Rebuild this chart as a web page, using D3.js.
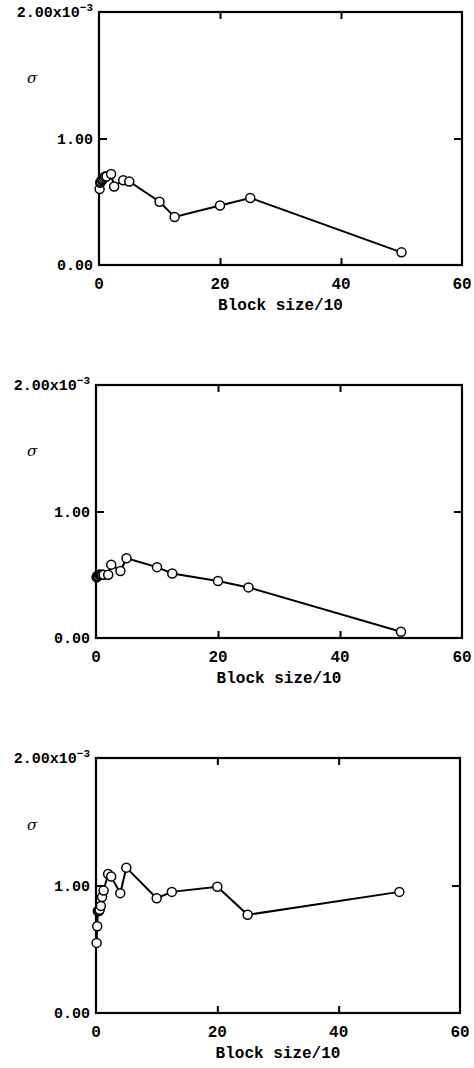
<!DOCTYPE html>
<html><head><meta charset="utf-8">
<script src="https://cdn.jsdelivr.net/npm/d3@7"></script>
<style>body{margin:0;background:#fff}</style></head>
<body><svg id="c" width="474" height="1068"></svg>
<script>
const blockSizes = [0.1,0.2,0.3,0.5,0.6,0.8,1,1.25,2,2.5,4,5,10,12.5,20,25,50];
const sigmaA = [0.60,0.65,0.66,0.67,0.68,0.69,0.70,0.70,0.72,0.62,0.67,0.66,0.50,0.38,0.47,0.53,0.10];
const sigmaB = [0.48,0.49,0.49,0.50,0.50,0.50,0.50,0.50,0.50,0.58,0.53,0.63,0.56,0.51,0.45,0.40,0.05];
const sigmaC = [0.55,0.68,0.80,0.80,0.81,0.84,0.91,0.96,1.09,1.07,0.94,1.14,0.90,0.95,0.99,0.77,0.95];
const xTicks = [0,20,40,60];
const yTicks = [0,1,2];
const yTickLabels = ["0.00","1.00","2.00x10"];

const panels = [
  {data:sigmaA, x0:99, x1:462, top:12, bottom:265},
  {data:sigmaB, x0:96, x1:462, top:385, bottom:638},
  {data:sigmaC, x0:96, x1:460, top:758, bottom:1013}
];
const svg = d3.select("#c");
const font = "Liberation Mono, DejaVu Sans Mono, monospace";
panels.forEach(p=>{
  const g = svg.append("g");
  const x = d3.scaleLinear().domain([0,60]).range([p.x0,p.x1]);
  const y = d3.scaleLinear().domain([0,2]).range([p.bottom,p.top]);
  g.append("rect").attr("x",p.x0).attr("y",p.top).attr("width",p.x1-p.x0).attr("height",p.bottom-p.top)
    .attr("fill","none").attr("stroke","#000").attr("stroke-width",2.2);
  g.append("g").attr("transform",`translate(0,${p.bottom})`).call(d3.axisBottom(x).tickValues([20,40]).tickSize(-7).tickFormat(""))
   .call(a=>{a.select(".domain").remove();a.selectAll("line").attr("stroke-width",2);});
  g.append("g").attr("transform",`translate(0,${p.top})`).call(d3.axisTop(x).tickValues([20,40]).tickSize(-7).tickFormat(""))
   .call(a=>{a.select(".domain").remove();a.selectAll("line").attr("stroke-width",2);});
  g.append("g").attr("transform",`translate(${p.x0},0)`).call(d3.axisLeft(y).tickValues([1]).tickSize(-8).tickFormat(""))
   .call(a=>{a.select(".domain").remove();a.selectAll("line").attr("stroke-width",2);});
  g.append("g").attr("transform",`translate(${p.x1},0)`).call(d3.axisRight(y).tickValues([1]).tickSize(-8).tickFormat(""))
   .call(a=>{a.select(".domain").remove();a.selectAll("line").attr("stroke-width",2);});
  xTicks.forEach(t=>g.append("text").attr("x",x(t)).attr("y",p.bottom+24).attr("text-anchor","middle")
    .attr("font-family",font).attr("font-weight","bold").attr("font-size",16).text(t));
  g.append("text").attr("x",(p.x0+p.x1)/2).attr("y",p.bottom+45).attr("text-anchor","middle")
    .attr("font-family",font).attr("font-weight","bold").attr("font-size",16).text("Block size/10");
  yTicks.forEach((t,i)=>{
    const tx = g.append("text").attr("x",p.x0-6).attr("y",y(t)+5).attr("text-anchor","end")
      .attr("font-family",font).attr("font-weight","bold").attr("font-size",15);
    tx.append("tspan").text(yTickLabels[i]);
    if(t===2) tx.append("tspan").attr("dy",-6).attr("font-size",11).text("−3");
  });
  g.append("text").attr("x",32).attr("y",y(1.5)+8).attr("text-anchor","middle")
    .attr("font-family","DejaVu Serif, serif").attr("font-style","italic").attr("font-size",15).text("σ");
  const line = d3.line().x((d,i)=>x(blockSizes[i])).y(d=>y(d));
  g.append("path").attr("d",line(p.data)).attr("fill","none").attr("stroke","#000").attr("stroke-width",2);
  g.selectAll("circle.pt").data(p.data).enter().append("circle")
    .attr("cx",(d,i)=>x(blockSizes[i])).attr("cy",d=>y(d)).attr("r",4.5)
    .attr("fill","#fff").attr("stroke","#000").attr("stroke-width",1.5);
});
</script></body></html>
